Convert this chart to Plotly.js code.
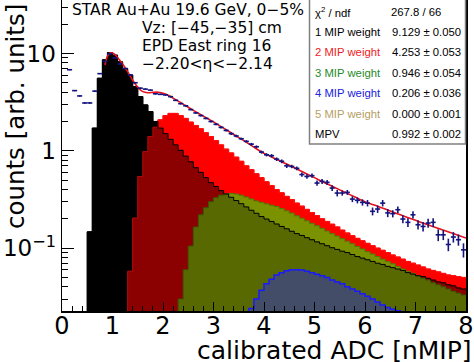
<!DOCTYPE html>
<html><head><meta charset="utf-8">
<script src="https://cdn.plot.ly/plotly-3.0.1.min.js"></script>
<style>html,body{margin:0;padding:0;background:#fff;}#chart{width:474px;height:362px;}</style>
</head><body><div id="chart"></div>
<script>
// ---- data ----
const binWidth = 0.1;

const mip1Start = 0.5;
const mip1Values = [0.147, 1.71, 5.56, 8.6, 10.2, 9.6, 8.2, 7.0, 6.0, 4.56, 3.6, 2.96, 2.53, 2.0,
  1.71, 1.50, 1.31, 1.15, 1.01, 0.88, 0.77, 0.67, 0.60, 0.53, 0.47,
  0.43, 0.39, 0.36, 0.333, 0.308, 0.286, 0.265, 0.245, 0.228, 0.211,
  0.199, 0.188, 0.177, 0.167, 0.158, 0.149, 0.141, 0.135, 0.128, 0.122,
  0.116, 0.111, 0.106, 0.101, 0.097, 0.093, 0.090, 0.086, 0.082, 0.079,
  0.076, 0.073, 0.070, 0.068, 0.065, 0.063, 0.061, 0.059, 0.056, 0.054,
  0.052, 0.051, 0.049, 0.047, 0.045, 0.044, 0.042, 0.041, 0.039, 0.038];

const mip2Start = 1.3;
const mip2Values = [0.058, 0.204, 0.545, 0.98, 1.40, 1.75, 2.08, 2.30, 2.42, 2.42,
  2.30, 2.15, 1.97, 1.82, 1.68, 1.53, 1.40, 1.27, 1.15, 1.04,
  0.95, 0.86, 0.78, 0.70, 0.64, 0.58, 0.53, 0.48, 0.44, 0.40,
  0.37, 0.34, 0.315, 0.29, 0.27, 0.25, 0.232, 0.216, 0.20, 0.188,
  0.176, 0.165, 0.153, 0.143, 0.134, 0.126, 0.119, 0.112, 0.106, 0.100,
  0.095, 0.090, 0.085, 0.081, 0.077, 0.073, 0.070, 0.067, 0.064, 0.061,
  0.059, 0.057, 0.055, 0.053, 0.052, 0.051, 0.050];

const mip3Start = 2.3;
const mip3Values = [0.03, 0.06, 0.105, 0.165, 0.22, 0.26, 0.30, 0.33, 0.35, 0.36,
  0.365, 0.36, 0.35, 0.335, 0.32, 0.305, 0.295, 0.285, 0.276, 0.268,
  0.255, 0.242, 0.229, 0.215, 0.203, 0.191, 0.18, 0.17, 0.16, 0.15,
  0.141, 0.133, 0.125, 0.118, 0.111, 0.104, 0.098, 0.092, 0.087, 0.082,
  0.077, 0.073, 0.069, 0.065, 0.061, 0.058, 0.055, 0.052, 0.049, 0.047,
  0.044, 0.042, 0.040, 0.038, 0.036, 0.0345, 0.033];

const mip4Start = 3.7;
const mip4Values = [0.024, 0.030, 0.037, 0.043, 0.048, 0.053, 0.056, 0.0585, 0.060, 0.060,
  0.0595, 0.058, 0.056, 0.054, 0.052, 0.050, 0.047, 0.045, 0.043, 0.040,
  0.038, 0.036, 0.034, 0.032, 0.030, 0.028, 0.026, 0.0245, 0.0235, 0.0228,
  0.022, 0.021, 0.020, 0.019, 0.018, 0.017, 0.016, 0.015, 0.014, 0.013, 0.012, 0.011, 0.010];

const dataStart = 0.15;
const dataValues = [6.8, 4.15, 3.66, 3.1, 3.1, 4.1, 6.2, 8.3, 9.9,
  9.0, 7.8, 7.0, 6.0, 5.0, 4.4, 4.3, 4.2, 3.85, 3.8,
  3.75, 3.6, 3.3, 3.05, 2.9, 2.65, 2.45, 2.3, 2.15, 2.0,
  1.87, 1.74, 1.62, 1.50, 1.42, 1.33, 1.25, 1.17, 1.10, 0.97,
  0.91, 0.89, 0.82, 0.78, 0.70, 0.69, 0.66, 0.57, 0.545, 0.555,
  0.466, 0.485, 0.474, 0.414, 0.368, 0.368, 0.374, 0.319, 0.31, 0.295,
  0.29, 0.239, 0.252, 0.29, 0.23, 0.226, 0.248, 0.199, 0.184, 0.22,
  0.174, 0.167, 0.181, 0.184, 0.137, 0.137, 0.109, 0.13, 0.122, 0.096];
const dataErrors = [0.05, 0.05, 0.05, 0.05, 0.05, 0.05, 0.05, 0.08, 0.08,
  0.08, 0.08, 0.08, 0.08, 0.06, 0.06, 0.06, 0.06, 0.06, 0.06,
  0.06, 0.06, 0.06, 0.06, 0.06, 0.045, 0.045, 0.045, 0.045, 0.045,
  0.045, 0.045, 0.045, 0.045, 0.045, 0.035, 0.035, 0.035, 0.035, 0.035,
  0.035, 0.035, 0.035, 0.035, 0.035, 0.028, 0.028, 0.028, 0.028, 0.028,
  0.028, 0.028, 0.028, 0.028, 0.028, 0.022, 0.022, 0.022, 0.022, 0.022,
  0.022, 0.022, 0.022, 0.022, 0.022, 0.019, 0.019, 0.019, 0.019, 0.019,
  0.019, 0.019, 0.019, 0.019, 0.019, 0.016, 0.016, 0.016, 0.016, 0.016];

const fitX = [0.85, 0.90, 0.95, 1.00, 1.05, 1.10, 1.20, 1.30, 1.40, 1.50, 1.60, 1.70, 1.80, 1.90,
  2.00, 2.10, 2.20, 2.30, 2.40, 2.50, 2.60, 2.70, 2.80, 2.90, 3.00, 3.20, 3.40, 3.60, 3.80,
  4.00, 4.20, 4.40, 4.60, 4.80, 5.00, 5.20, 5.40, 5.60, 5.80, 6.00, 6.20, 6.40, 6.60, 6.80,
  7.00, 7.20, 7.40, 7.60, 7.80, 8.00];
const fitY = [7.6, 9.4, 10.1, 10.1, 9.7, 9.1, 7.8, 6.5, 5.3, 4.5, 4.05, 3.95, 3.98, 4.0,
  3.9, 3.72, 3.48, 3.24, 3.02, 2.8, 2.6, 2.43, 2.27, 2.12, 1.98, 1.71, 1.47, 1.27, 1.09,
  0.94, 0.84, 0.75, 0.67, 0.595, 0.53, 0.47, 0.42, 0.375, 0.335, 0.30, 0.275, 0.252, 0.23, 0.21,
  0.193, 0.177, 0.163, 0.150, 0.138, 0.127];

const yTickVals = [0.1, 1, 10];
const yTickText = ['10<sup>\u22121</sup>', '1', '10'];
const yMinorVals = [0.03, 0.04, 0.05, 0.06, 0.07, 0.08, 0.09, 0.2, 0.3, 0.4, 0.5, 0.6, 0.7, 0.8, 0.9,
  2, 3, 4, 5, 6, 7, 8, 9, 20, 30];

const statLabels = ['\u03c7<sup>2</sup> / ndf', '1 MIP weight', '2 MIP weight', '3 MIP weight', '4 MIP weight', '5 MIP weight', 'MPV'];
const statValues = ['267.8 / 66', '9.129 \u00b1 0.050', '4.253 \u00b1 0.053', '0.946 \u00b1 0.054', '0.206 \u00b1 0.036', '0.000 \u00b1 0.001', '0.992 \u00b1 0.002'];
const infoLines = ['STAR Au+Au 19.6 GeV, 0\u22125%', 'Vz: [\u221245,\u221235] cm', 'EPD East ring 16', '\u22122.20<\u03b7<\u22122.14'];

// ---- build step outlines ----
const FLOOR = 1e-3;
function steps(start, vals) {
  const xs = [start], ys = [FLOOR];
  vals.forEach((v, i) => { xs.push(+(start + i * binWidth).toFixed(3)); ys.push(v); });
  xs.push(+(start + vals.length * binWidth).toFixed(3)); ys.push(vals[vals.length - 1]);
  return {x: xs, y: ys};
}
function histTrace(start, vals, fillcolor, linecolor, lw) {
  const s = steps(start, vals);
  return {x: s.x, y: s.y, type: 'scatter', mode: 'lines', line: {shape: 'hv', color: linecolor, width: lw},
    fill: 'tozeroy', fillcolor: fillcolor, hoverinfo: 'skip'};
}

const dataX = dataValues.map((_, i) => +(dataStart + i * binWidth).toFixed(3));

const traces = [
  histTrace(mip2Start, mip2Values, '#ff0000', '#ff0000', 1),
  histTrace(mip1Start, mip1Values, '#000000', '#000000', 1),
  histTrace(mip2Start, mip2Values, 'rgba(255,0,0,0.75)', '#ff1010', 1),
  histTrace(mip3Start, mip3Values, 'rgba(118,150,0,0.97)', '#4f7a00', 1),
  histTrace(mip1Start, mip1Values, 'rgba(0,0,0,0.27)', '#000000', 1),
  histTrace(mip4Start, mip4Values, 'rgba(61,67,143,0.72)', '#1a1aff', 1.5),
  {x: fitX, y: fitY, type: 'scatter', mode: 'lines', line: {color: '#e8101c', width: 1.6, shape: 'spline', smoothing: 0.6}, hoverinfo: 'skip'},
  {x: dataX, y: dataValues, type: 'scatter', mode: 'markers', marker: {size: 1, color: '#14147f'},
    error_x: {type: 'constant', value: binWidth / 2, width: 0, thickness: 1.6, color: '#14147f'},
    error_y: {type: 'data', array: dataErrors, width: 0, thickness: 1.6, color: '#14147f'}, hoverinfo: 'skip'}
];

// pixel helpers for text placement
const L = 62, T = 0, W = 404, H = 311;
const px = p => (p - L) / W;
const py = p => (H - (p - T)) / H;

const annotations = [];
infoLines.forEach((t, i) => {
  annotations.push({text: t, xref: 'paper', yref: 'paper', x: px(i === 0 ? 70 : 140), y: py([10, 28, 46, 64][i]),
    xanchor: 'left', yanchor: 'middle', showarrow: false, font: {family: 'DejaVu Sans', size: 15.5, color: '#000'}});
});
const statColors = ['#000', '#000', '#ee1c24', '#1f8a1f', '#2020e0', '#b5a063', '#000'];
statLabels.forEach((t, i) => {
  const yy = 11.7 + 20.4 * i;
  annotations.push({text: t, xref: 'paper', yref: 'paper', x: px(313), y: py(yy), xanchor: 'left', yanchor: 'middle',
    showarrow: false, font: {family: 'Liberation Sans', size: 11.3, color: statColors[i]}});
  annotations.push({text: statValues[i], xref: 'paper', yref: 'paper', x: i === 0 ? px(389) : px(463), y: py(yy),
    xanchor: i === 0 ? 'left' : 'right', yanchor: 'middle', showarrow: false,
    font: {family: 'Liberation Sans', size: 11.3, color: '#000'}});
});
annotations.push({text: 'calibrated ADC [nMIP]', xref: 'paper', yref: 'paper', x: px(474), y: py(350),
  xanchor: 'right', yanchor: 'middle', showarrow: false, font: {family: 'DejaVu Sans', size: 25, color: '#000'}});
annotations.push({text: 'counts [arb. units]', xref: 'paper', yref: 'paper', x: px(15), y: py(117), textangle: -90,
  xanchor: 'center', yanchor: 'middle', showarrow: false, font: {family: 'DejaVu Sans', size: 24.5, color: '#000'}});

const layout = {
  width: 474, height: 362,
  margin: {l: L, r: 474 - L - W, t: T, b: 362 - T - H, pad: 0},
  paper_bgcolor: '#fff', plot_bgcolor: '#fff',
  showlegend: false, hovermode: false,
  xaxis: {range: [0, 8], tickmode: 'linear', tick0: 0, dtick: 1, ticks: 'inside', ticklen: 9, tickwidth: 1, tickcolor: '#000',
    ticklabelstandoff: -7,
    minor: {tickmode: 'linear', tick0: 0, dtick: 0.2, ticks: 'inside', ticklen: 5, tickwidth: 1, tickcolor: '#000'},
    showline: true, linecolor: '#000', linewidth: 1.5, mirror: false, showgrid: false, zeroline: false,
    tickfont: {family: 'DejaVu Sans', size: 24, color: '#000'}},
  yaxis: {type: 'log', range: [Math.log10(0.0226), Math.log10(35.4)], tickmode: 'array', tickvals: yTickVals, ticktext: yTickText,
    ticks: 'inside', ticklen: 12, tickwidth: 1, tickcolor: '#000',
    minor: {tickmode: 'array', tickvals: yMinorVals, ticks: 'inside', ticklen: 6, tickwidth: 1, tickcolor: '#000'},
    showline: true, linecolor: '#000', linewidth: 1.5, mirror: true, showgrid: false, zeroline: false,
    tickfont: {family: 'DejaVu Sans', size: 23, color: '#000'}},
  shapes: [{type: 'rect', xref: 'paper', yref: 'paper', x0: px(309.5), x1: px(465.5), y0: py(144), y1: py(-2),
    line: {color: '#808080', width: 1.5}, fillcolor: '#fff', layer: 'above'}],
  annotations: annotations
};

Plotly.newPlot('chart', traces, layout, {displayModeBar: false, staticPlot: true});
</script>
</body></html>
